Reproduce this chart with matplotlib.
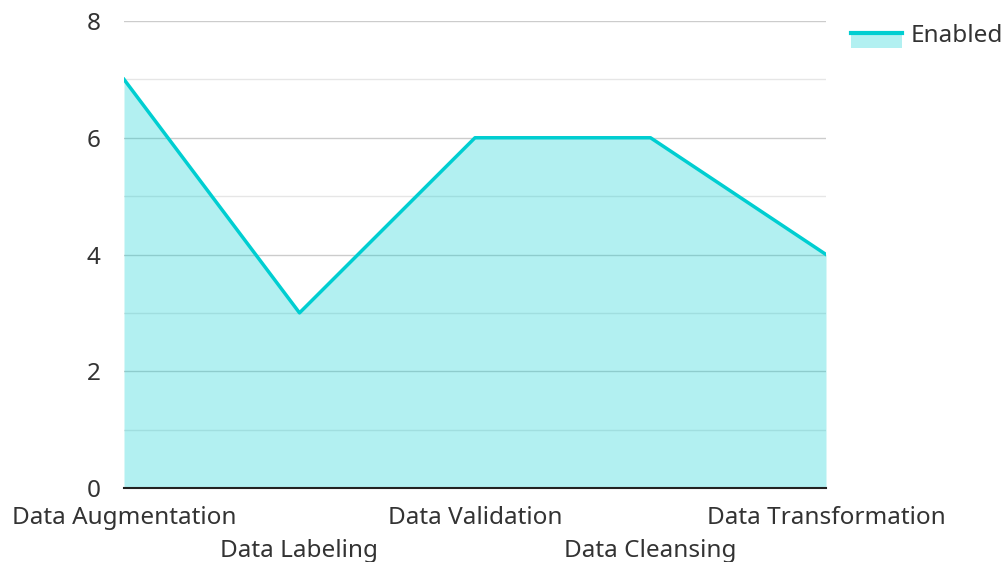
import matplotlib
matplotlib.use("Agg")
import matplotlib.pyplot as plt
from matplotlib.legend_handler import HandlerBase
from matplotlib.patches import Rectangle
from matplotlib.lines import Line2D

categories = ["Data Augmentation", "Data Labeling", "Data Validation",
              "Data Cleansing", "Data Transformation"]
enabled = [7, 3, 6, 6, 4]
series_name = "Enabled"

line_color = "#00ced1"
text_color = "#333333"
fs = 17.5

plt.rcParams['font.family'] = ['Noto Sans', 'DejaVu Sans']

fig = plt.figure(figsize=(10.07, 5.62), dpi=100)
ax = fig.add_axes([124 / 1007, 1 - 488 / 562, (826 - 124) / 1007, (488 - 21) / 562])

x = list(range(len(categories)))
ax.fill_between(x, enabled, 0, color=line_color, alpha=0.3, linewidth=0, zorder=3)
ax.plot(x, enabled, color=line_color, linewidth=2.5, zorder=4)

ax.set_xlim(0, len(categories) - 1)
ax.set_ylim(0, 8)
ax.set_yticks([0, 2, 4, 6, 8])
ax.set_yticks([1, 3, 5, 7], minor=True)
ax.grid(axis='y', which='major', color='#cccccc', linewidth=1, zorder=5)
ax.grid(axis='y', which='minor', color='#e6e6e6', linewidth=1, zorder=5)
ax.grid(axis='x', visible=False)
ax.set_axisbelow(False)

for s in ['top', 'right', 'left']:
    ax.spines[s].set_visible(False)
ax.spines['bottom'].set_color('#222222')
ax.spines['bottom'].set_linewidth(1.5)
ax.spines['bottom'].set_zorder(6)

ax.tick_params(axis='y', which='both', length=0, labelsize=fs, labelcolor=text_color, pad=17)

# staggered category labels: even ones on the first row, odd ones on the second
ax.set_xticks(x[0::2], categories[0::2])
ax.set_xticks(x[1::2], categories[1::2], minor=True)
ax.tick_params(axis='x', which='major', length=0, labelsize=fs, labelcolor=text_color, pad=13)
ax.tick_params(axis='x', which='minor', length=0, labelsize=fs, labelcolor=text_color, pad=37)


class AreaHandler(HandlerBase):
    # filled swatch with the line along its top edge, sitting a bit low
    def create_artists(self, legend, orig_handle, xdescent, ydescent,
                       width, height, fontsize, trans):
        y0 = -ydescent - 5
        rect = Rectangle((-xdescent, y0), width, height,
                         facecolor=line_color, alpha=0.3, linewidth=0, transform=trans)
        ln = Line2D([-xdescent, -xdescent + width], [y0 + height] * 2,
                    color=line_color, linewidth=3, transform=trans)
        return [rect, ln]


handle = Rectangle((0, 0), 1, 1)
leg = fig.legend([handle], [series_name], handler_map={Rectangle: AreaHandler()},
                 loc='upper left', bbox_to_anchor=(851 / 1007, 1 - 24 / 562),
                 frameon=False, fontsize=fs, handlelength=2.1, handleheight=0.55,
                 handletextpad=0.37, borderpad=0, borderaxespad=0,
                 labelcolor=text_color)

fig.savefig("out.png", dpi=100)
